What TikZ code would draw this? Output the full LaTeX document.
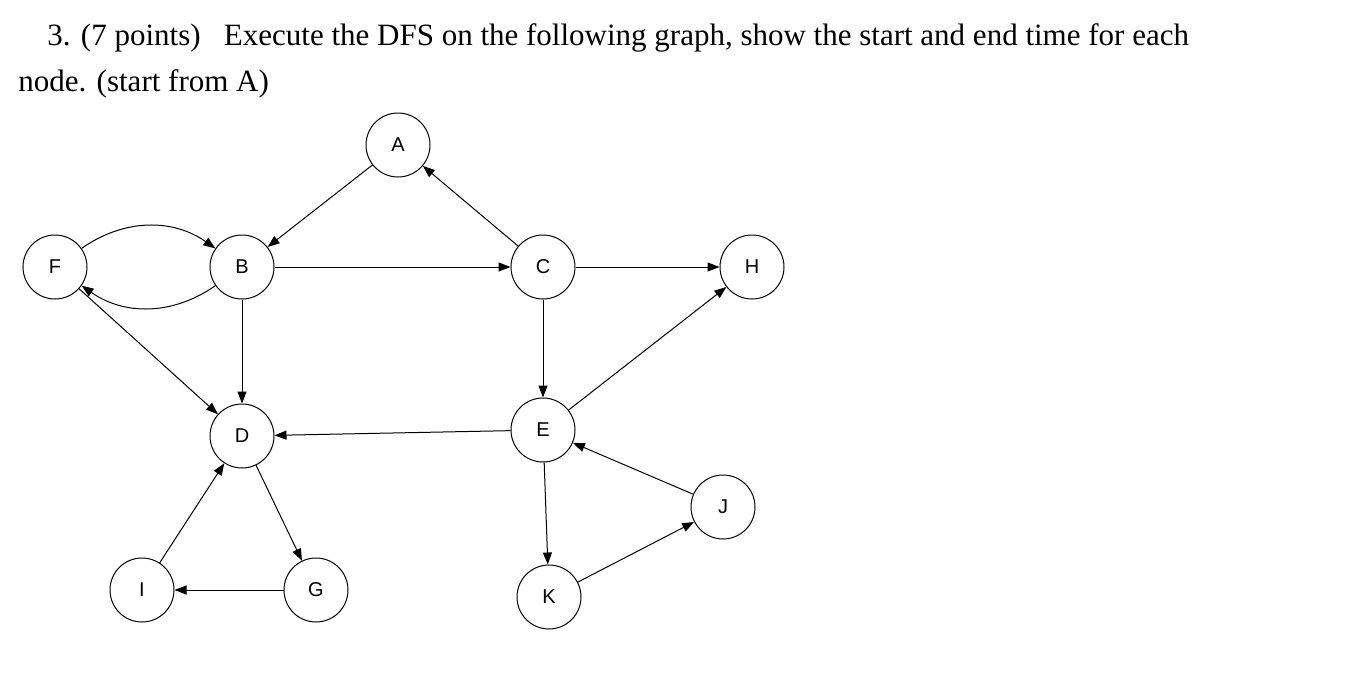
\documentclass[tikz,border=0pt]{standalone}
\usepackage{fontspec}
\setmainfont{Liberation Serif}
\newfontfamily\nodefont{Liberation Sans}
\usetikzlibrary{arrows.meta}
\begin{document}
\begin{tikzpicture}[x=0.5pt,y=-0.5pt,
  vtx/.style={circle,draw,line width=0.5pt,minimum size=32pt,inner sep=0pt,font=\nodefont\fontsize{10}{12}\selectfont},
  edge/.style={line width=0.5pt,-{Triangle[length=6pt,width=4.5pt]}}]
\useasboundingbox (0,0) rectangle (1372,680);
\node[anchor=base west,font=\fontsize{15.5}{18}\selectfont,inner sep=0pt] (t1) at (47,46) {3. (7 points)\enspace\ Execute the DFS on the following graph, show the start and end time for each};
\node[anchor=base west,font=\fontsize{15.5}{18}\selectfont,inner sep=0pt] (t2) at (18,91) {node. (start from A)};
\node[vtx] (A) at (398,145) {A};
\node[vtx] (F) at (55,267) {F};
\node[vtx] (B) at (242,267) {B};
\node[vtx] (C) at (543,267) {C};
\node[vtx] (H) at (752,267) {H};
\node[vtx] (D) at (242,436) {D};
\node[vtx] (E) at (543,430) {E};
\node[vtx] (J) at (723,507) {J};
\node[vtx] (I) at (142,590) {I};
\node[vtx] (G) at (316,590) {G};
\node[vtx] (K) at (549,597) {K};
\draw[edge] (A) -- (B);
\draw[edge] (C) -- (A);
\draw[edge] (B) -- (C);
\draw[edge] (C) -- (H);
\draw[edge] (F) to[bend left=35] (B);
\draw[edge] (B) to[bend left=35] (F);
\draw[edge] (F) -- (D);
\draw[edge] (B) -- (D);
\draw[edge] (E) -- (D);
\draw[edge] (C) -- (E);
\draw[edge] (E) -- (H);
\draw[edge] (J) -- (E);
\draw[edge] (E) -- (K);
\draw[edge] (K) -- (J);
\draw[edge] (D) -- (G);
\draw[edge] (G) -- (I);
\draw[edge] (I) -- (D);
\end{tikzpicture}
\end{document}
